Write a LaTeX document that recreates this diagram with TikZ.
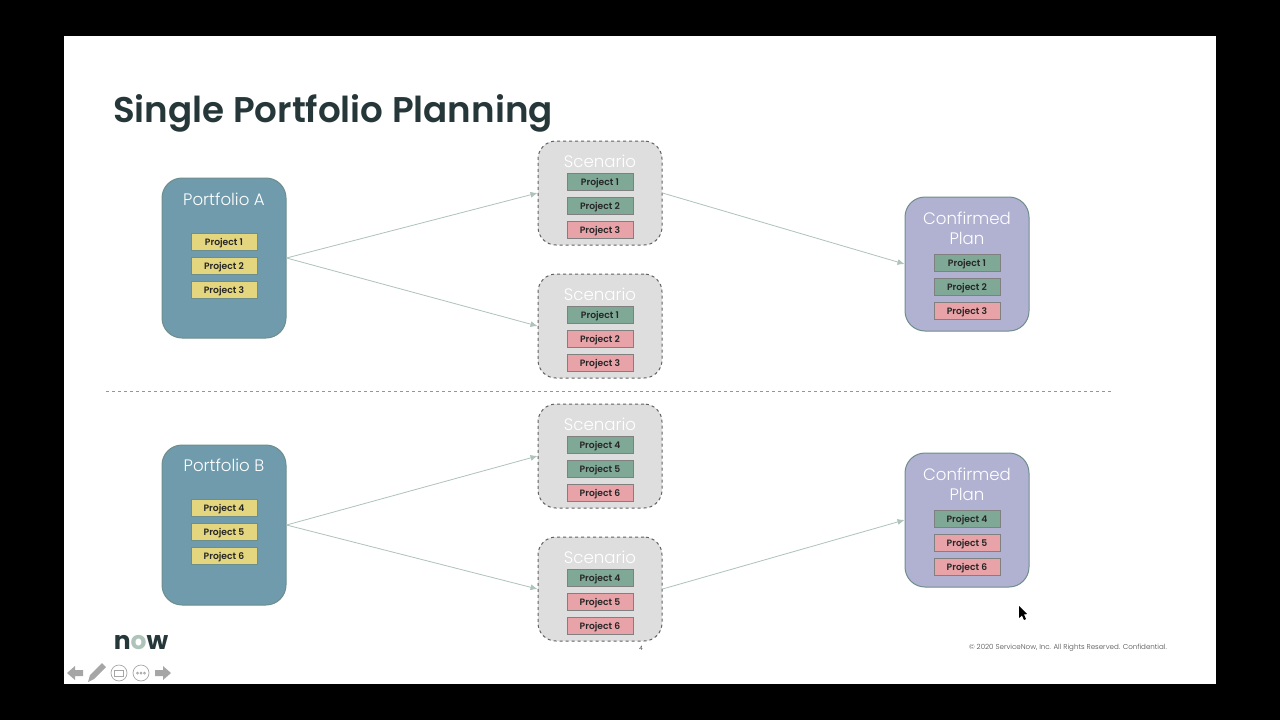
\documentclass[tikz,border=0pt]{standalone}
\usepackage{fontspec}
\setmainfont{Poppins}
\newfontfamily\lightfont[UprightFont=* Light]{Poppins}
\newfontfamily\semifont[UprightFont=* SemiBold]{Poppins}
\usetikzlibrary{arrows.meta,positioning}
\definecolor{titleink}{HTML}{26373A}
\definecolor{edgeink}{HTML}{AEC3BA}
\definecolor{boxedge}{HTML}{6E8E8C}
\definecolor{portfill}{HTML}{6F9BAD}
\definecolor{planfill}{HTML}{B1B1D2}
\definecolor{scenfill}{HTML}{DEDEDE}
\definecolor{navgrey}{HTML}{A6A6A6}
\tikzset{
  portbox/.style={draw=boxedge, line width=1pt, fill=portfill, rounded corners=20pt, minimum width=124pt, minimum height=160pt, inner sep=0pt},
  planbox/.style={portbox, fill=planfill, minimum height=134pt},
  scenbox/.style={draw=black!62, dashed, line width=1pt, fill=scenfill, rounded corners=18pt, minimum width=124pt, minimum height=104pt, inner sep=0pt},
  heading/.style={text=white, font=\lightfont\fontsize{16.6}{20}\selectfont, align=center, inner sep=0pt},
  proj/.style={draw=black!50, line width=1pt, minimum width=66pt, minimum height=17pt, inner sep=0pt, text height=6.3pt, text depth=0pt, text=black!85, font=\semifont\fontsize{9.2}{10}\selectfont},
  yel/.style={proj, draw=boxedge, fill={rgb,255:red,227;green,214;blue,127}},
  grn/.style={proj, fill={rgb,255:red,127;green,168;blue,151}},
  pnk/.style={proj, fill={rgb,255:red,232;green,163;blue,168}},
  link/.style={draw=edgeink, line width=0.8pt, -{Latex[length=7pt,width=6pt]}},
}
\begin{document}
\begin{tikzpicture}[x=1pt,y=-1pt,node distance=24pt,on grid]
  \useasboundingbox (0,0) rectangle (1280,720);
  \fill[black] (0,0) rectangle (1280,720);
  \fill[white] (64,36) rectangle (1216,684);

  \node[anchor=base west, inner sep=0pt, text=titleink, font=\semifont\fontsize{35.7}{40}\selectfont] (title) at (113,122) {Single Portfolio Planning};

  % top half
  \node[portbox] (port_a) at (224,258) {};
  \node[heading] (port_a_t) at (224,199) {Portfolio A};
  \node[yel] (pa_1) at (224,242) {Project 1};
  \node[yel] (pa_2) [below of =pa_1] {Project 2};
  \node[yel] (pa_3) [below of =pa_2] {Project 3};

  \node[scenbox] (scen_a1) at (600,193) {};
  \node[heading] (scen_a1_t) at (600,161) {Scenario};
  \node[grn] (sa1_1) at (600,182) {Project 1};
  \node[grn] (sa1_2) [below of =sa1_1] {Project 2};
  \node[pnk] (sa1_3) [below of =sa1_2] {Project 3};

  \node[scenbox] (scen_a2) at (600,326) {};
  \node[heading] (scen_a2_t) at (600,294) {Scenario};
  \node[grn] (sa2_1) at (600,315) {Project 1};
  \node[pnk] (sa2_2) [below of =sa2_1] {Project 2};
  \node[pnk] (sa2_3) [below of =sa2_2] {Project 3};

  \node[planbox] (plan_a) at (967,264) {};
  \node[heading] (plan_a_t) at (967,228) {Confirmed\\Plan};
  \node[grn] (pla_1) at (967,263) {Project 1};
  \node[grn] (pla_2) [below of =pla_1] {Project 2};
  \node[pnk] (pla_3) [below of =pla_2] {Project 3};

  % bottom half
  \node[portbox] (port_b) at (224,525) {};
  \node[heading] (port_b_t) at (224,465) {Portfolio B};
  \node[yel] (pb_1) at (224,508) {Project 4};
  \node[yel] (pb_2) [below of =pb_1] {Project 5};
  \node[yel] (pb_3) [below of =pb_2] {Project 6};

  \node[scenbox] (scen_b1) at (600,456) {};
  \node[heading] (scen_b1_t) at (600,424) {Scenario};
  \node[grn] (sb1_1) at (600,445) {Project 4};
  \node[grn] (sb1_2) [below of =sb1_1] {Project 5};
  \node[pnk] (sb1_3) [below of =sb1_2] {Project 6};

  \node[scenbox] (scen_b2) at (600,589) {};
  \node[heading] (scen_b2_t) at (600,557) {Scenario};
  \node[grn] (sb2_1) at (600,578) {Project 4};
  \node[pnk] (sb2_2) [below of =sb2_1] {Project 5};
  \node[pnk] (sb2_3) [below of =sb2_2] {Project 6};

  \node[planbox] (plan_b) at (967,520) {};
  \node[heading] (plan_b_t) at (967,484) {Confirmed\\Plan};
  \node[grn] (plb_1) at (967,519) {Project 4};
  \node[pnk] (plb_2) [below of =plb_1] {Project 5};
  \node[pnk] (plb_3) [below of =plb_2] {Project 6};

  \path[every edge/.style={link}]
  (port_a.east) edge (scen_a1.west)
                edge (scen_a2.west)
  (scen_a1.east) edge (plan_a.west)
  (port_b.east) edge (scen_b1.west)
                edge (scen_b2.west)
  (scen_b2.east) edge (plan_b.west)
  ;

  \coordinate (split_l) at (106,391.5);
  \coordinate (split_r) at (1112,391.5);
  \draw[edgeink!80!black, dashed, line width=0.8pt] (split_l) -- (split_r);

  % footer
  \node[inner sep=0pt, text=titleink, font=\bfseries\fontsize{25}{30}\selectfont] (logo) at (141,643) {n{\color{edgeink}o}w};
  \node[inner sep=0pt, text=black!70, font=\fontsize{6}{8}\selectfont] (page_no) at (641,648) {4};
  \node[anchor=east, inner sep=0pt, text=black!70, font=\lightfont\fontsize{7.1}{9}\selectfont] (legal) at (1167,647.5) {© 2020 ServiceNow, Inc. All Rights Reserved. Confidential.};

  % player buttons
  \fill[navgrey] (67,673) -- (75,666) -- (75,670) -- (83,670) -- (83,676) -- (75,676) -- (75,680) -- cycle;
  \fill[navgrey] (171,673) -- (163,666) -- (163,670) -- (155,670) -- (155,676) -- (163,676) -- (163,680) -- cycle;
  \fill[navgrey] (88,682) -- (90,675) -- (102,663) -- (106,667) -- (94,679) -- cycle;
  \draw[navgrey, line width=0.7pt] (119,673) circle (8);
  \draw[navgrey, line width=0.7pt] (141,673) circle (8);
  \draw[navgrey, line width=0.7pt] (114.5,670.5) rectangle (123.5,676.5);
  \draw[navgrey, line width=0.7pt] (137.5,673) circle (1) (141,673) circle (1) (144.5,673) circle (1);

  % cursor
  \fill[black] (1019,606) -- (1019,618) -- (1022,615.5) -- (1024,620) -- (1026,619) -- (1024,614.5) -- (1027,614) -- cycle;
\end{tikzpicture}
\end{document}
